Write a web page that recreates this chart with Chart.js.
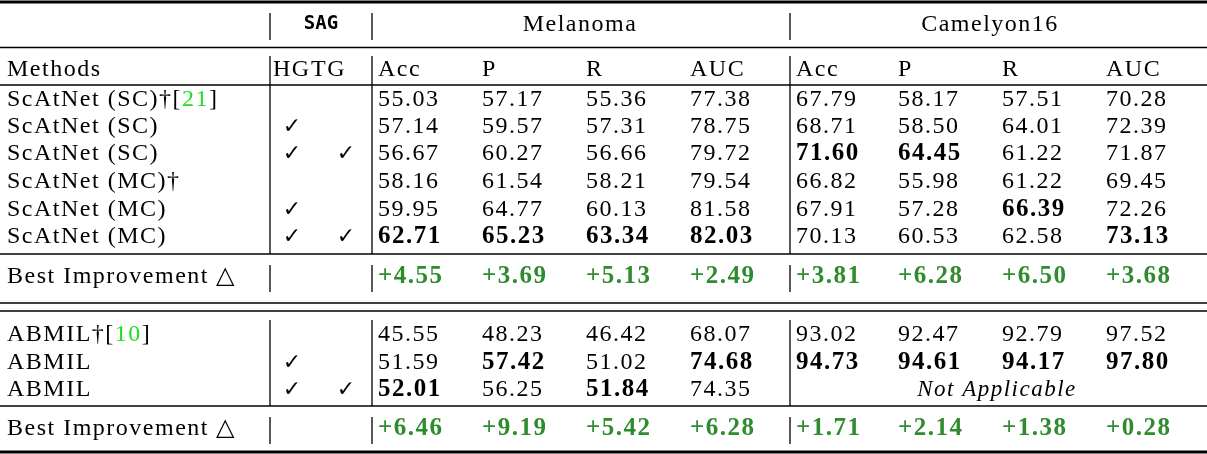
<!DOCTYPE html>
<html><head><meta charset="utf-8">
<script src="https://cdn.jsdelivr.net/npm/chart.js@4/dist/chart.umd.min.js"></script>
<style>html,body{margin:0;padding:0;background:#fff}</style>
</head><body>
<canvas id="c" width="1207" height="454"></canvas>
<script>
const methods1 = ["ScAtNet (SC)†", "ScAtNet (SC)", "ScAtNet (SC)", "ScAtNet (MC)†", "ScAtNet (MC)", "ScAtNet (MC)"];
const refs1 = ["21", "", "", "", "", ""];
const hg1 = [0, 1, 1, 0, 1, 1];
const tg1 = [0, 0, 1, 0, 0, 1];
const melanoma1 = [[55.03,57.17,55.36,77.38],[57.14,59.57,57.31,78.75],[56.67,60.27,56.66,79.72],[58.16,61.54,58.21,79.54],[59.95,64.77,60.13,81.58],[62.71,65.23,63.34,82.03]];
const camelyon1 = [[67.79,58.17,57.51,70.28],[68.71,58.50,64.01,72.39],[71.60,64.45,61.22,71.87],[66.82,55.98,61.22,69.45],[67.91,57.28,66.39,72.26],[70.13,60.53,62.58,73.13]];
const improve1 = ["+4.55","+3.69","+5.13","+2.49","+3.81","+6.28","+6.50","+3.68"];
const methods2 = ["ABMIL†", "ABMIL", "ABMIL"];
const refs2 = ["10", "", ""];
const hg2 = [0, 1, 1];
const tg2 = [0, 0, 1];
const melanoma2 = [[45.55,48.23,46.42,68.07],[51.59,57.42,51.02,74.68],[52.01,56.25,51.84,74.35]];
const camelyon2 = [[93.02,92.47,92.79,97.52],[94.73,94.61,94.17,97.80],null];
const improve2 = ["+6.46","+9.19","+5.42","+6.28","+1.71","+2.14","+1.38","+0.28"];
const metricLabels = ["Acc", "P", "R", "AUC"];
const datasetLabels = ["Melanoma", "Camelyon16"];

const colX = [378, 482, 586, 690, 796, 898, 1002, 1106];
const rows1Y = [100,127,154,182,210,237];
const rows2Y = [335,363,390];
const SERIF = "'Liberation Serif', serif";

function maxes(block){ const m=[]; for(let j=0;j<4;j++){ m.push(Math.max(...block.filter(r=>r).map(r=>r[j]))); } return m; }

const tablePlugin = {
  id: 'table',
  afterDraw(chart){
    const ctx = chart.ctx, xs = chart.scales.x, ys = chart.scales.y;
    const X = v => xs.getPixelForValue(v), Y = v => ys.getPixelForValue(v);
    ctx.save();
    ctx.fillStyle = '#fff'; ctx.fillRect(0,0,chart.width,chart.height);
    ctx.strokeStyle = '#000'; ctx.fillStyle = '#000';
    function hline(y, w){ ctx.lineWidth = w; ctx.beginPath(); ctx.moveTo(X(0), Y(y)); ctx.lineTo(X(1207), Y(y)); ctx.stroke(); }
    function vline(x, y0, y1){ ctx.lineWidth = 1.3; ctx.beginPath(); ctx.moveTo(X(x), Y(y0)); ctx.lineTo(X(x), Y(y1)); ctx.stroke(); }
    function text(t, x, y, font, color, align, ls){ ctx.font = font; ctx.letterSpacing = (ls===undefined?1.5:ls)+'px'; ctx.fillStyle = color || '#000'; ctx.textAlign = align || 'left'; ctx.textBaseline = 'middle'; ctx.fillText(t, X(x), Y(y)); return ctx.measureText(t).width; }
    hline(2, 3); hline(47.5, 1.3); hline(85, 1.3); hline(254, 1.3);
    hline(303, 1.3); hline(311, 1.3); hline(406, 1.3); hline(452, 3);
    vline(270, 13, 40); vline(372, 13, 40); vline(790, 13, 40);
    vline(270, 56, 254); vline(372, 56, 254); vline(790, 56, 254);
    vline(270, 265, 292); vline(372, 265, 292); vline(790, 265, 292);
    vline(270, 320, 406); vline(372, 320, 406); vline(790, 320, 406);
    vline(270, 417, 444); vline(372, 417, 444); vline(790, 417, 444);
    const reg = "24px " + SERIF, bold = "bold 25px " + SERIF;
    text("SAG", 321, 24, "bold 19px 'DejaVu Sans Mono', monospace", '#000', 'center', 0);
    text(datasetLabels[0], 580, 25, reg, '#000', 'center');
    text(datasetLabels[1], 990, 25, reg, '#000', 'center');
    text("Methods", 7, 70, reg); text("HG", 273, 70, reg); text("TG", 311, 70, reg);
    metricLabels.forEach((m,i)=>{ text(m, colX[i], 70, reg); text(m, colX[i+4], 70, reg); });
    function block(methods, refs, hg, tg, mel, cam, ys_){
      const mm = maxes(mel), cm = maxes(cam);
      methods.forEach((m,i)=>{
        const y = ys_[i];
        let w = text(m, 7, y, reg);
        if(refs[i]){ w += text("[", 7+w, y, reg); w += text(refs[i], 7+w, y, reg, '#22dd22'); text("]", 7+w, y, reg); }
        if(hg[i]) text("✓", 292, y, "22px 'DejaVu Sans', sans-serif", '#000', 'center', 0);
        if(tg[i]) text("✓", 346, y, "22px 'DejaVu Sans', sans-serif", '#000', 'center', 0);
        mel[i].forEach((v,j)=>text(v.toFixed(2), colX[j], y, v===mm[j]?bold:reg));
        if(cam[i]) cam[i].forEach((v,j)=>text(v.toFixed(2), colX[j+4], y, v===cm[j]?bold:reg));
        else text("Not Applicable", 997, y, "italic 23px " + SERIF, '#000', 'center');
      });
    }
    block(methods1, refs1, hg1, tg1, melanoma1, camelyon1, rows1Y);
    block(methods2, refs2, hg2, tg2, melanoma2, camelyon2, rows2Y);
    [[improve1,277],[improve2,429]].forEach(([arr,y])=>{
      text("Best Improvement △", 7, y, reg);
      arr.forEach((v,j)=>text(v, colX[j], y, bold, '#2e8b2e'));
    });
    ctx.restore();
  }
};

new Chart(document.getElementById('c'), {
  type: 'scatter',
  data: { datasets: [] },
  options: {
    responsive: false, animation: false, devicePixelRatio: 1,
    layout: { padding: 0 },
    plugins: { legend: { display: false }, tooltip: { enabled: false } },
    scales: {
      x: { type: 'linear', min: 0, max: 1207, display: false },
      y: { type: 'linear', min: 0, max: 454, reverse: true, display: false }
    }
  },
  plugins: [tablePlugin]
});
</script>
</body></html>
